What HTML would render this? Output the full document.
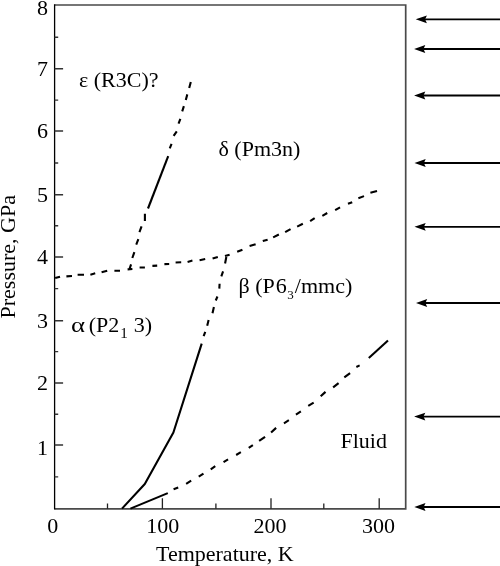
<!DOCTYPE html>
<html><head><meta charset="utf-8"><title>Phase diagram</title><style>
html,body{margin:0;padding:0;background:#fff;}
svg{display:block}
text{font-family:"Liberation Serif","DejaVu Serif",serif;font-size:22px;fill:#000}
.s{font-size:12.5px}
</style></head><body>
<svg width="500" height="566" viewBox="0 0 500 566">
<path d="M54.6 5 H405.7 V508.8 H54.6" fill="none" stroke="#4a4a4a" stroke-width="1.7"/>
<path d="M54.6 4.2 V509.6" stroke="#000" stroke-width="1.3"/>
<path d="M54.6 445 H63.1 M54.6 383 H63.1 M54.6 320.8 H63.1 M54.6 257 H63.1 M54.6 194.8 H63.1 M54.6 131 H63.1 M54.6 68.8 H63.1 M54.6 476.9 H58.2 M54.6 414.2 H58.2 M54.6 351.6 H58.2 M54.6 288.6 H58.2 M54.6 225.8 H58.2 M54.6 163 H58.2 M54.6 100.1 H58.2 M54.6 37.2 H58.2" stroke="#333" stroke-width="1.4"/>
<path d="M162.4 508.8 V498.2 M271 508.8 V498.2 M379.2 508.8 V498.2 M107.5 508.8 V503.5 M215.9 508.8 V503.5 M323.8 508.8 V503.5" stroke="#222" stroke-width="1.3"/>
<text x="47.9" y="15.0" text-anchor="end">8</text>
<text x="47.9" y="76.2" text-anchor="end">7</text>
<text x="47.9" y="138.4" text-anchor="end">6</text>
<text x="47.9" y="202.2" text-anchor="end">5</text>
<text x="47.9" y="264.4" text-anchor="end">4</text>
<text x="47.9" y="328.2" text-anchor="end">3</text>
<text x="47.9" y="390.4" text-anchor="end">2</text>
<text x="47.9" y="454.8" text-anchor="end">1</text>
<text x="52.7" y="532.8" text-anchor="middle">0</text>
<text x="162.8" y="532.8" text-anchor="middle">100</text>
<text x="270" y="532.8" text-anchor="middle">200</text>
<text x="378.5" y="532.8" text-anchor="middle">300</text>
<text x="156" y="561">Temperature, K</text>
<text transform="translate(15.2 318.5) rotate(-90)">Pressure, GPa</text>
<text x="79" y="86.5">ε (R3C)?</text>
<text x="218.5" y="155.8">δ (Pm3n)</text>
<text x="238.5" y="292.6">β (P<tspan dx="1">6</tspan><tspan style="font-size:13px" dy="6.4" dx="0.6">3</tspan><tspan dy="-6.4" dx="1">/mmc)</tspan></text>
<text x="71" y="331.6" transform="translate(71 0) scale(1.22 1) translate(-71 0)">α</text>
<text x="88.7" y="331.6">(P2<tspan style="font-size:15px" dy="6.2" dx="1">1</tspan><tspan dy="-6.2" dx="0.5"> 3)</tspan></text>
<text x="340.5" y="448.4">Fluid</text>
<path d="M122 508.6 L144.8 484 L173.4 432.5 L201.7 343.6" fill="none" stroke="#000" stroke-width="2.1" stroke-linejoin="round"/>
<path d="M130.4 508.6 L167.8 493.1" fill="none" stroke="#000" stroke-width="2.1" stroke-linejoin="round"/>
<path d="M368.8 358 L388 340.4" fill="none" stroke="#000" stroke-width="2.1" stroke-linejoin="round"/>
<path d="M148 208.5 L168.2 156.2" fill="none" stroke="#000" stroke-width="2.1" stroke-linejoin="round"/>
<path d="M55.18 278.09 L60.02 276.71 M66.4 276.38 L72 276.02 M77.6 274.8 L84 274.8 M90.38 274.69 L95.22 273.31 M101.59 272.29 L107.21 270.71 M114.4 270.8 L120 270.8 M127.6 269.37 L132.4 269.03 M139.6 267.5 L144.9 267.5 M152.4 265.88 L157.2 265.62 M164.4 264.09 L169.2 264.01 M175.6 262.49 L181.2 262.31 M187.58 261.99 L192.42 260.61 M199.59 260.22 L205.21 259.08 M212.58 258.49 L217.82 256.91 M224.98 256.09 L229.62 254.71 M237.17 251.85 L242.43 249.75 M249.58 246.09 L255.62 244.31 M262.78 241.09 L267.62 239.71 M273.16 237.32 L278.84 234.48 M285.15 232.2 L290.55 229.1 M297.16 226.62 L302.84 223.78 M310.13 221.18 L314.67 218.12 M322.35 215.8 L327.25 213 M335.15 210.2 L340.05 207.4 M347.97 203.85 L352.23 202.15 M358.37 198.26 L364.03 196.14 M370.39 192.7 L377.01 190.9 M203.64 336.22 L205.26 331.78 M207.19 325.71 L208.61 319.89 M212.49 313.31 L213.91 307.09 M215.75 300.53 L217.45 296.47 M219.32 288.6 L219.58 283.7 M221.33 276.32 L223.07 271.38 M225.08 263.51 L226.32 256.99 M173.58 489.26 L178.22 487.54 M186.14 483.79 L191.16 480.61 M198.74 476.59 L203.46 473.61 M210.73 469.37 L215.27 466.23 M223.54 462.19 L228.06 459.41 M236.14 455 L240.86 452.2 M248.73 447.78 L252.87 445.02 M259.13 440.97 L265.07 436.83 M271.09 432.53 L276.11 427.87 M283.94 423.29 L288.86 420.21 M295.93 414.68 L300.87 411.42 M308.24 405.89 L313.66 402.61 M320.69 396.33 L325.51 391.87 M333.11 387.35 L338.59 383.05 M344.32 377.46 L350.08 373.14 M356.36 366.93 L359.64 365.37 M129.73 268.42 L131.07 264.38 M132.33 258.02 L134.37 252.18 M136.24 244.63 L138.36 239.17 M139.44 232.13 L141.56 226.47 M144.9 220.9 L144.9 213.8 M169.74 148.43 L171.56 143.77 M173.63 135.87 L176.77 131.33 M178.54 123.63 L180.36 118.87 M182.22 111.32 L183.88 106.18 M185.8 100.01 L187.3 94.39 M189.2 88.01 L190.8 82.09" fill="none" stroke="#000" stroke-width="2.1"/>
<path d="M424.7 19.3 H500" stroke="#000" stroke-width="1.8"/>
<path d="M415.7 19.3 L426.9 15.4 L425.1 19.3 L426.9 23.2 Z" fill="#000"/>
<path d="M423.1 49.0 H500" stroke="#000" stroke-width="1.8"/>
<path d="M414.1 49.0 L425.3 45.1 L423.5 49.0 L425.3 52.9 Z" fill="#000"/>
<path d="M423.1 95.5 H500" stroke="#000" stroke-width="1.8"/>
<path d="M414.1 95.5 L425.3 91.6 L423.5 95.5 L425.3 99.4 Z" fill="#000"/>
<path d="M423.5 163.0 H500" stroke="#000" stroke-width="1.8"/>
<path d="M414.5 163.0 L425.7 159.1 L423.9 163.0 L425.7 166.9 Z" fill="#000"/>
<path d="M423.5 226.8 H500" stroke="#000" stroke-width="1.8"/>
<path d="M414.5 226.8 L425.7 222.9 L423.9 226.8 L425.7 230.7 Z" fill="#000"/>
<path d="M425.0 303.0 H500" stroke="#000" stroke-width="1.8"/>
<path d="M416.0 303.0 L427.2 299.1 L425.4 303.0 L427.2 306.9 Z" fill="#000"/>
<path d="M423.1 416.6 H500" stroke="#000" stroke-width="1.8"/>
<path d="M414.1 416.6 L425.3 412.7 L423.5 416.6 L425.3 420.5 Z" fill="#000"/>
<path d="M423.3 507.0 H500" stroke="#000" stroke-width="1.8"/>
<path d="M414.3 507.0 L425.5 503.1 L423.7 507.0 L425.5 510.9 Z" fill="#000"/>
</svg>
</body></html>
